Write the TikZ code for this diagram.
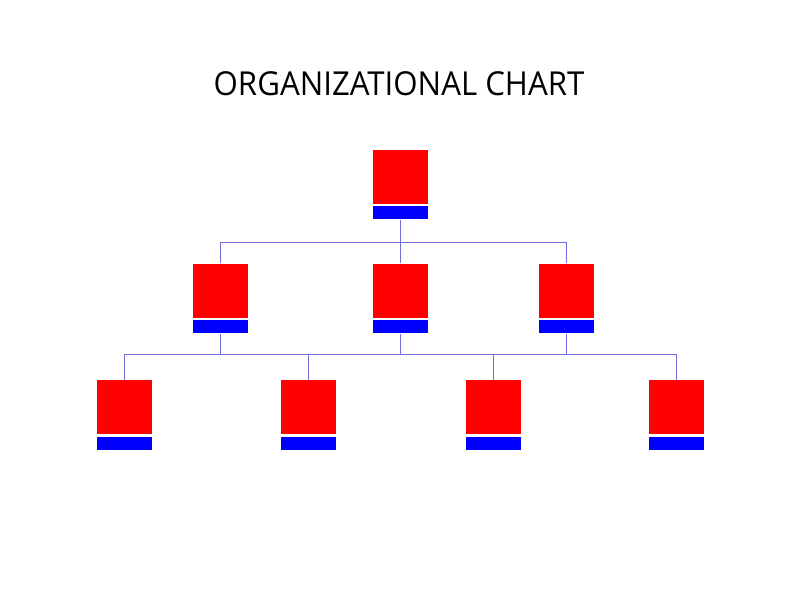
\documentclass[tikz,border=0pt]{standalone}
\usepackage{fontspec}
\setmainfont{Open Sans}
\usetikzlibrary{positioning}
\definecolor{boxred}{RGB}{255,0,0}
\definecolor{barblue}{RGB}{0,0,255}
\definecolor{linkblue}{RGB}{110,110,225}
\tikzset{
  post/.style={fill=boxred,minimum width=55pt,minimum height=54pt,inner sep=0pt},
  bar/.style={fill=barblue,minimum width=55pt,minimum height=13pt,inner sep=0pt,below=2.5pt of #1},
  link/.style={linkblue,line width=0.9pt}
}
\begin{document}
\begin{tikzpicture}[x=1pt,y=-1pt]
                    \useasboundingbox[fill=white] (0,0) rectangle (800,600);
                    \node[xscale=0.946] (title) at (399,84) {\fontsize{33}{40}\selectfont ORGANIZATIONAL CHART};
                    % top level
                    \node[post] (head) at (400.5,176.5) {};
                    \node[bar=head] (headbar) {};
                    % middle level
                    \node[post] (midA) at (220.5,290.5) {};
                    \node[post] (midB) at (400.5,290.5) {};
                    \node[post] (midC) at (566,290.5) {};
                    \node[bar=midA] (midAbar) {};
                    \node[bar=midB] (midBbar) {};
                    \node[bar=midC] (midCbar) {};
                    % bottom level
                    \node[post] (lowA) at (124,407) {};
                    \node[post] (lowB) at (308.5,407) {};
                    \node[post] (lowC) at (493,407) {};
                    \node[post] (lowD) at (676,407) {};
                    \node[bar=lowA] (lowAbar) {};
                    \node[bar=lowB] (lowBbar) {};
                    \node[bar=lowC] (lowCbar) {};
                    \node[bar=lowD] (lowDbar) {};
                    % connectors
                    \coordinate (busA) at (400.5,242);
                    \coordinate (busB) at (400.5,354);
                    \draw[link] (headbar.south) -- (busA);
                    \draw[link] (busA) -| (midA.north);
                    \draw[link] (busA) -| (midC.north);
                    \draw[link] (busA) -- (midB.north);
                    \draw[link] (midAbar.south) -- (midAbar.south |- busB);
                    \draw[link] (midBbar.south) -- (busB);
                    \draw[link] (midCbar.south) -- (midCbar.south |- busB);
                    \draw[link] (lowA.north) |- (busB);
                    \draw[link] (lowB.north) |- (busB);
                    \draw[link] (lowC.north) |- (busB);
                    \draw[link] (lowD.north) |- (busB);
                \end{tikzpicture}
\end{document}
